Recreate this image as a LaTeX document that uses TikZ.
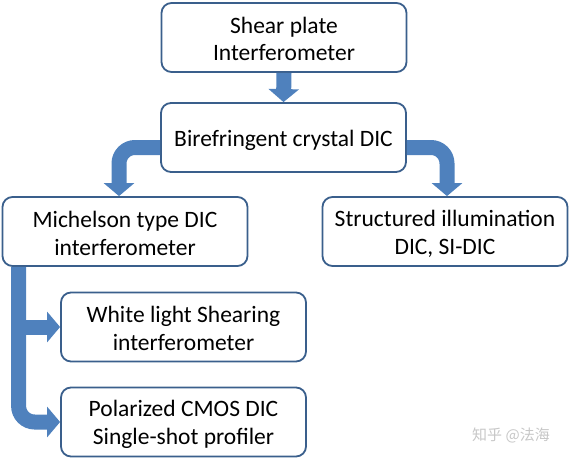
\documentclass[tikz,border=0pt]{standalone}
\usepackage{fontspec}
\setmainfont{Carlito}
\newfontfamily\cjkfont{Noto Sans CJK SC}
\usetikzlibrary{arrows.meta}
\definecolor{boxline}{RGB}{58,95,140}
\definecolor{arrowblue}{RGB}{79,129,189}
\newcommand\bstrut{\rule[-3pt]{0pt}{25pt}}
\tikzset{
  box/.style={draw=boxline, line width=1.8pt, fill=white, rounded corners=10pt,
    align=center, inner sep=0pt, minimum width=245pt, minimum height=69pt,
    font=\fontsize{23.5}{28}\selectfont, text=black},
  blockarrow/.style={draw=arrowblue, line width=15pt,
    -{Triangle[width=30pt,length=13pt]}, rounded corners=16pt},
}
\begin{document}
\begin{tikzpicture}[x=1pt,y=-1pt]
\useasboundingbox (0,0) rectangle (571,460);
\node[box] (b1) at (284,37.5) {\bstrut Shear plate\\\bstrut Interferometer};
\node[box] (b2) at (283.5,137.5) {\bstrut Birefringent crystal DIC};
\node[box] (b3) at (125,231.5) {\bstrut Michelson type DIC\\\bstrut interferometer};
\node[box] (b4) at (445,231.5) {\bstrut Structured illumination\\\bstrut DIC, SI-DIC};
\node[box] (b5) at (183.5,327) {\bstrut White light Shearing\\\bstrut interferometer};
\node[box] (b6) at (183.5,422) {\bstrut Polarized CMOS DIC\\\bstrut Single-shot profiler};
\draw[blockarrow] (b1.south) -- (b2.north);
\draw[blockarrow] ([yshift=-10pt]b2.west) -| ([xshift=-6pt]b3.north);
\draw[blockarrow] ([yshift=-10pt]b2.east) -| ([xshift=2pt]b4.north);
\draw[blockarrow] ([xshift=17pt]b3.south west) |- (b6.west);
\coordinate (br) at ([xshift=17pt]b3.south west |- b5.west);
\draw[blockarrow, rounded corners=0pt] ([xshift=-7.5pt]br) -- (b5.west);
\node[text=black!22, font=\cjkfont\fontsize{15}{18}\selectfont] (wm) at (511,435) {知乎 @法海};
\end{tikzpicture}
\end{document}
